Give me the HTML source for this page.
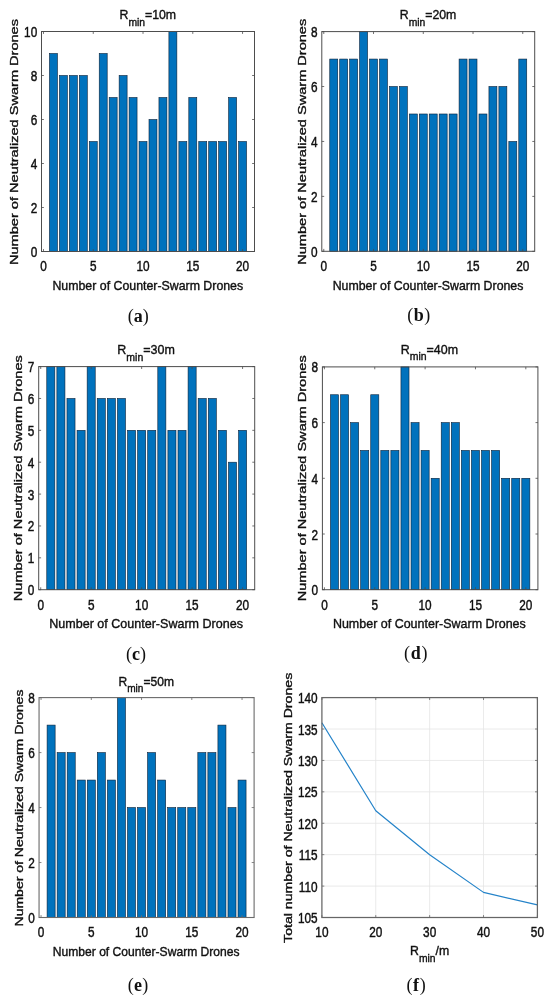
<!DOCTYPE html>
<html lang="en">
<head>
<meta charset="utf-8">
<title>Neutralized swarm drones versus counter-swarm drones for different R_min</title>
<style>
html,body{margin:0;padding:0;background:#fff;}
body{width:550px;height:1003px;overflow:hidden;}
svg{display:block;}
svg text{font-family:"Liberation Sans", Arial, Helvetica, sans-serif;fill:#101010;stroke:#101010;stroke-width:0.36px;}
svg text.cap{font-family:"Liberation Serif", "Times New Roman", serif;fill:#111;stroke:none;}
</style>
</head>
<body>
<svg width="550" height="1003" viewBox="0 0 550 1003">
<rect width="550" height="1003" fill="#ffffff"/>
<g id="panel-a">
<rect x="41.5" y="31.5" width="213.00" height="220.00" fill="#fff"/>
<g fill="#0072BD" stroke="#0a2038" stroke-width="0.6">
<rect x="49.46" y="53.50" width="7.96" height="198.00"/>
<rect x="59.42" y="75.50" width="7.96" height="176.00"/>
<rect x="69.37" y="75.50" width="7.96" height="176.00"/>
<rect x="79.32" y="75.50" width="7.96" height="176.00"/>
<rect x="89.28" y="141.50" width="7.96" height="110.00"/>
<rect x="99.23" y="53.50" width="7.96" height="198.00"/>
<rect x="109.18" y="97.50" width="7.96" height="154.00"/>
<rect x="119.14" y="75.50" width="7.96" height="176.00"/>
<rect x="129.09" y="97.50" width="7.96" height="154.00"/>
<rect x="139.04" y="141.50" width="7.96" height="110.00"/>
<rect x="149.00" y="119.50" width="7.96" height="132.00"/>
<rect x="158.95" y="97.50" width="7.96" height="154.00"/>
<rect x="168.90" y="31.50" width="7.96" height="220.00"/>
<rect x="178.86" y="141.50" width="7.96" height="110.00"/>
<rect x="188.81" y="97.50" width="7.96" height="154.00"/>
<rect x="198.76" y="141.50" width="7.96" height="110.00"/>
<rect x="208.71" y="141.50" width="7.96" height="110.00"/>
<rect x="218.67" y="141.50" width="7.96" height="110.00"/>
<rect x="228.62" y="97.50" width="7.96" height="154.00"/>
<rect x="238.57" y="141.50" width="7.96" height="110.00"/>
</g>
<path d="M43.49 251.5v-2.4M43.49 31.5v2.4M93.26 251.5v-2.4M93.26 31.5v2.4M143.02 251.5v-2.4M143.02 31.5v2.4M192.79 251.5v-2.4M192.79 31.5v2.4M242.56 251.5v-2.4M242.56 31.5v2.4M41.5 251.50h2.4M254.5 251.50h-2.4M41.5 207.50h2.4M254.5 207.50h-2.4M41.5 163.50h2.4M254.5 163.50h-2.4M41.5 119.50h2.4M254.5 119.50h-2.4M41.5 75.50h2.4M254.5 75.50h-2.4M41.5 31.50h2.4M254.5 31.50h-2.4" stroke="#4d4d4d" stroke-width="0.8" fill="none"/>
<rect x="41.5" y="31.5" width="213.00" height="220.00" fill="none" stroke="#4d4d4d" stroke-width="1.0"/>
<text transform="translate(43.49,271.40) scale(1,1.23)" font-size="11.8" text-anchor="middle" >0</text>
<text transform="translate(93.26,271.40) scale(1,1.23)" font-size="11.8" text-anchor="middle" >5</text>
<text transform="translate(143.02,271.40) scale(1,1.23)" font-size="11.8" text-anchor="middle" >10</text>
<text transform="translate(192.79,271.40) scale(1,1.23)" font-size="11.8" text-anchor="middle" >15</text>
<text transform="translate(242.56,271.40) scale(1,1.23)" font-size="11.8" text-anchor="middle" >20</text>
<text transform="translate(37.20,257.00) scale(1,1.23)" font-size="11.8" text-anchor="end" >0</text>
<text transform="translate(37.20,213.00) scale(1,1.23)" font-size="11.8" text-anchor="end" >2</text>
<text transform="translate(37.20,169.00) scale(1,1.23)" font-size="11.8" text-anchor="end" >4</text>
<text transform="translate(37.20,125.00) scale(1,1.23)" font-size="11.8" text-anchor="end" >6</text>
<text transform="translate(37.20,81.00) scale(1,1.23)" font-size="11.8" text-anchor="end" >8</text>
<text transform="translate(37.20,37.00) scale(1,1.23)" font-size="11.8" text-anchor="end" >10</text>
<text transform="translate(147.80,290.20) scale(1,1.0988259109311742)" font-size="12.35" text-anchor="middle" >Number of Counter-Swarm Drones</text>
<text transform="translate(17.80,142.00) rotate(-90) scale(1.2568965517241382,1)" font-size="11.6" text-anchor="middle">Number of Neutralized Swarm Drones</text>
<text transform="translate(147.80,19.10) scale(1,1.0988259109311742)" font-size="12.299999999999999" text-anchor="middle">R<tspan font-size="10.33" dy="6.15">min</tspan><tspan dy="-6.15">=10m</tspan></text>
<text x="138.2" y="321.7" class="cap" font-size="18" letter-spacing="0" text-anchor="middle">(<tspan font-weight="bold">a</tspan>)</text>
</g>
<g id="panel-b">
<rect x="321.8" y="31.6" width="212.90" height="219.70" fill="#fff"/>
<g fill="#0072BD" stroke="#0a2038" stroke-width="0.6">
<rect x="329.76" y="59.06" width="7.96" height="192.24"/>
<rect x="339.71" y="59.06" width="7.96" height="192.24"/>
<rect x="349.66" y="59.06" width="7.96" height="192.24"/>
<rect x="359.60" y="31.60" width="7.96" height="219.70"/>
<rect x="369.55" y="59.06" width="7.96" height="192.24"/>
<rect x="379.50" y="59.06" width="7.96" height="192.24"/>
<rect x="389.45" y="86.53" width="7.96" height="164.78"/>
<rect x="399.40" y="86.53" width="7.96" height="164.78"/>
<rect x="409.35" y="113.99" width="7.96" height="137.31"/>
<rect x="419.30" y="113.99" width="7.96" height="137.31"/>
<rect x="429.24" y="113.99" width="7.96" height="137.31"/>
<rect x="439.19" y="113.99" width="7.96" height="137.31"/>
<rect x="449.14" y="113.99" width="7.96" height="137.31"/>
<rect x="459.09" y="59.06" width="7.96" height="192.24"/>
<rect x="469.04" y="59.06" width="7.96" height="192.24"/>
<rect x="478.99" y="113.99" width="7.96" height="137.31"/>
<rect x="488.94" y="86.53" width="7.96" height="164.78"/>
<rect x="498.89" y="86.53" width="7.96" height="164.78"/>
<rect x="508.83" y="141.45" width="7.96" height="109.85"/>
<rect x="518.78" y="59.06" width="7.96" height="192.24"/>
</g>
<path d="M323.79 251.3v-2.4M323.79 31.6v2.4M373.53 251.3v-2.4M373.53 31.6v2.4M423.28 251.3v-2.4M423.28 31.6v2.4M473.02 251.3v-2.4M473.02 31.6v2.4M522.76 251.3v-2.4M522.76 31.6v2.4M321.8 251.30h2.4M534.7 251.30h-2.4M321.8 196.38h2.4M534.7 196.38h-2.4M321.8 141.45h2.4M534.7 141.45h-2.4M321.8 86.53h2.4M534.7 86.53h-2.4M321.8 31.60h2.4M534.7 31.60h-2.4" stroke="#4d4d4d" stroke-width="0.8" fill="none"/>
<rect x="321.8" y="31.6" width="212.90" height="219.70" fill="none" stroke="#4d4d4d" stroke-width="1.0"/>
<text transform="translate(323.79,271.20) scale(1,1.23)" font-size="11.8" text-anchor="middle" >0</text>
<text transform="translate(373.53,271.20) scale(1,1.23)" font-size="11.8" text-anchor="middle" >5</text>
<text transform="translate(423.28,271.20) scale(1,1.23)" font-size="11.8" text-anchor="middle" >10</text>
<text transform="translate(473.02,271.20) scale(1,1.23)" font-size="11.8" text-anchor="middle" >15</text>
<text transform="translate(522.76,271.20) scale(1,1.23)" font-size="11.8" text-anchor="middle" >20</text>
<text transform="translate(317.50,256.80) scale(1,1.23)" font-size="11.8" text-anchor="end" >0</text>
<text transform="translate(317.50,201.88) scale(1,1.23)" font-size="11.8" text-anchor="end" >2</text>
<text transform="translate(317.50,146.95) scale(1,1.23)" font-size="11.8" text-anchor="end" >4</text>
<text transform="translate(317.50,92.03) scale(1,1.23)" font-size="11.8" text-anchor="end" >6</text>
<text transform="translate(317.50,37.10) scale(1,1.23)" font-size="11.8" text-anchor="end" >8</text>
<text transform="translate(428.05,290.00) scale(1,1.0988259109311742)" font-size="12.35" text-anchor="middle" >Number of Counter-Swarm Drones</text>
<text transform="translate(306.00,141.75) rotate(-90) scale(1.2568965517241382,1)" font-size="11.6" text-anchor="middle">Number of Neutralized Swarm Drones</text>
<text transform="translate(428.05,19.20) scale(1,1.0988259109311742)" font-size="12.299999999999999" text-anchor="middle">R<tspan font-size="10.33" dy="6.15">min</tspan><tspan dy="-6.15">=20m</tspan></text>
<text x="419.0" y="321.4" class="cap" font-size="18" letter-spacing="0.55" text-anchor="middle">(<tspan font-weight="bold">b</tspan>)</text>
</g>
<g id="panel-c">
<rect x="38.7" y="366.6" width="216.00" height="223.10" fill="#fff"/>
<g fill="#0072BD" stroke="#0a2038" stroke-width="0.6">
<rect x="46.77" y="366.60" width="8.07" height="223.10"/>
<rect x="56.87" y="366.60" width="8.07" height="223.10"/>
<rect x="66.96" y="398.47" width="8.07" height="191.23"/>
<rect x="77.06" y="430.34" width="8.07" height="159.36"/>
<rect x="87.15" y="366.60" width="8.07" height="223.10"/>
<rect x="97.24" y="398.47" width="8.07" height="191.23"/>
<rect x="107.34" y="398.47" width="8.07" height="191.23"/>
<rect x="117.43" y="398.47" width="8.07" height="191.23"/>
<rect x="127.52" y="430.34" width="8.07" height="159.36"/>
<rect x="137.62" y="430.34" width="8.07" height="159.36"/>
<rect x="147.71" y="430.34" width="8.07" height="159.36"/>
<rect x="157.80" y="366.60" width="8.07" height="223.10"/>
<rect x="167.90" y="430.34" width="8.07" height="159.36"/>
<rect x="177.99" y="430.34" width="8.07" height="159.36"/>
<rect x="188.08" y="366.60" width="8.07" height="223.10"/>
<rect x="198.18" y="398.47" width="8.07" height="191.23"/>
<rect x="208.27" y="398.47" width="8.07" height="191.23"/>
<rect x="218.36" y="430.34" width="8.07" height="159.36"/>
<rect x="228.46" y="462.21" width="8.07" height="127.49"/>
<rect x="238.55" y="430.34" width="8.07" height="159.36"/>
</g>
<path d="M40.72 589.7v-2.4M40.72 366.6v2.4M91.19 589.7v-2.4M91.19 366.6v2.4M141.65 589.7v-2.4M141.65 366.6v2.4M192.12 589.7v-2.4M192.12 366.6v2.4M242.59 589.7v-2.4M242.59 366.6v2.4M38.7 589.70h2.4M254.7 589.70h-2.4M38.7 557.83h2.4M254.7 557.83h-2.4M38.7 525.96h2.4M254.7 525.96h-2.4M38.7 494.09h2.4M254.7 494.09h-2.4M38.7 462.21h2.4M254.7 462.21h-2.4M38.7 430.34h2.4M254.7 430.34h-2.4M38.7 398.47h2.4M254.7 398.47h-2.4M38.7 366.60h2.4M254.7 366.60h-2.4" stroke="#4d4d4d" stroke-width="0.8" fill="none"/>
<rect x="38.7" y="366.6" width="216.00" height="223.10" fill="none" stroke="#4d4d4d" stroke-width="1.0"/>
<text transform="translate(40.72,609.60) scale(1,1.23)" font-size="11.8" text-anchor="middle" >0</text>
<text transform="translate(91.19,609.60) scale(1,1.23)" font-size="11.8" text-anchor="middle" >5</text>
<text transform="translate(141.65,609.60) scale(1,1.23)" font-size="11.8" text-anchor="middle" >10</text>
<text transform="translate(192.12,609.60) scale(1,1.23)" font-size="11.8" text-anchor="middle" >15</text>
<text transform="translate(242.59,609.60) scale(1,1.23)" font-size="11.8" text-anchor="middle" >20</text>
<text transform="translate(34.40,595.20) scale(1,1.23)" font-size="11.8" text-anchor="end" >0</text>
<text transform="translate(34.40,563.33) scale(1,1.23)" font-size="11.8" text-anchor="end" >1</text>
<text transform="translate(34.40,531.46) scale(1,1.23)" font-size="11.8" text-anchor="end" >2</text>
<text transform="translate(34.40,499.59) scale(1,1.23)" font-size="11.8" text-anchor="end" >3</text>
<text transform="translate(34.40,467.71) scale(1,1.23)" font-size="11.8" text-anchor="end" >4</text>
<text transform="translate(34.40,435.84) scale(1,1.23)" font-size="11.8" text-anchor="end" >5</text>
<text transform="translate(34.40,403.97) scale(1,1.23)" font-size="11.8" text-anchor="end" >6</text>
<text transform="translate(34.40,372.10) scale(1,1.23)" font-size="11.8" text-anchor="end" >7</text>
<text transform="translate(146.10,627.90) scale(1,1.0813147410358566)" font-size="12.55" text-anchor="middle" >Number of Counter-Swarm Drones</text>
<text transform="translate(22.30,478.15) rotate(-90) scale(1.2568965517241382,1)" font-size="11.6" text-anchor="middle">Number of Neutralized Swarm Drones</text>
<text transform="translate(146.10,354.20) scale(1,1.0813147410358566)" font-size="12.5" text-anchor="middle">R<tspan font-size="10.50" dy="6.25">min</tspan><tspan dy="-6.25">=30m</tspan></text>
<text x="136.0" y="659.7" class="cap" font-size="18" letter-spacing="0" text-anchor="middle">(<tspan font-weight="bold">c</tspan>)</text>
</g>
<g id="panel-d">
<rect x="322.4" y="366.9" width="215.50" height="222.80" fill="#fff"/>
<g fill="#0072BD" stroke="#0a2038" stroke-width="0.6">
<rect x="330.46" y="394.75" width="8.06" height="194.95"/>
<rect x="340.53" y="394.75" width="8.06" height="194.95"/>
<rect x="350.60" y="422.60" width="8.06" height="167.10"/>
<rect x="360.67" y="450.45" width="8.06" height="139.25"/>
<rect x="370.74" y="394.75" width="8.06" height="194.95"/>
<rect x="380.81" y="450.45" width="8.06" height="139.25"/>
<rect x="390.88" y="450.45" width="8.06" height="139.25"/>
<rect x="400.95" y="366.90" width="8.06" height="222.80"/>
<rect x="411.02" y="422.60" width="8.06" height="167.10"/>
<rect x="421.09" y="450.45" width="8.06" height="139.25"/>
<rect x="431.16" y="478.30" width="8.06" height="111.40"/>
<rect x="441.23" y="422.60" width="8.06" height="167.10"/>
<rect x="451.30" y="422.60" width="8.06" height="167.10"/>
<rect x="461.37" y="450.45" width="8.06" height="139.25"/>
<rect x="471.44" y="450.45" width="8.06" height="139.25"/>
<rect x="481.51" y="450.45" width="8.06" height="139.25"/>
<rect x="491.58" y="450.45" width="8.06" height="139.25"/>
<rect x="501.65" y="478.30" width="8.06" height="111.40"/>
<rect x="511.72" y="478.30" width="8.06" height="111.40"/>
<rect x="521.79" y="478.30" width="8.06" height="111.40"/>
</g>
<path d="M324.41 589.7v-2.4M324.41 366.9v2.4M374.76 589.7v-2.4M374.76 366.9v2.4M425.11 589.7v-2.4M425.11 366.9v2.4M475.47 589.7v-2.4M475.47 366.9v2.4M525.82 589.7v-2.4M525.82 366.9v2.4M322.4 589.70h2.4M537.9 589.70h-2.4M322.4 534.00h2.4M537.9 534.00h-2.4M322.4 478.30h2.4M537.9 478.30h-2.4M322.4 422.60h2.4M537.9 422.60h-2.4M322.4 366.90h2.4M537.9 366.90h-2.4" stroke="#4d4d4d" stroke-width="0.8" fill="none"/>
<rect x="322.4" y="366.9" width="215.50" height="222.80" fill="none" stroke="#4d4d4d" stroke-width="1.0"/>
<text transform="translate(324.41,609.60) scale(1,1.23)" font-size="11.8" text-anchor="middle" >0</text>
<text transform="translate(374.76,609.60) scale(1,1.23)" font-size="11.8" text-anchor="middle" >5</text>
<text transform="translate(425.11,609.60) scale(1,1.23)" font-size="11.8" text-anchor="middle" >10</text>
<text transform="translate(475.47,609.60) scale(1,1.23)" font-size="11.8" text-anchor="middle" >15</text>
<text transform="translate(525.82,609.60) scale(1,1.23)" font-size="11.8" text-anchor="middle" >20</text>
<text transform="translate(318.10,595.20) scale(1,1.23)" font-size="11.8" text-anchor="end" >0</text>
<text transform="translate(318.10,539.50) scale(1,1.23)" font-size="11.8" text-anchor="end" >2</text>
<text transform="translate(318.10,483.80) scale(1,1.23)" font-size="11.8" text-anchor="end" >4</text>
<text transform="translate(318.10,428.10) scale(1,1.23)" font-size="11.8" text-anchor="end" >6</text>
<text transform="translate(318.10,372.40) scale(1,1.23)" font-size="11.8" text-anchor="end" >8</text>
<text transform="translate(429.35,628.40) scale(1,1.0856400000000002)" font-size="12.5" text-anchor="middle" >Number of Counter-Swarm Drones</text>
<text transform="translate(305.80,478.30) rotate(-90) scale(1.2568965517241382,1)" font-size="11.6" text-anchor="middle">Number of Neutralized Swarm Drones</text>
<text transform="translate(429.35,353.70) scale(1,1.0856400000000002)" font-size="12.45" text-anchor="middle">R<tspan font-size="10.46" dy="6.22">min</tspan><tspan dy="-6.22">=40m</tspan></text>
<text x="416.2" y="659.4" class="cap" font-size="18" letter-spacing="0.8" text-anchor="middle">(<tspan font-weight="bold">d</tspan>)</text>
</g>
<g id="panel-e">
<rect x="39.05" y="697.6" width="215.05" height="219.90" fill="#fff"/>
<g fill="#0072BD" stroke="#0a2038" stroke-width="0.6">
<rect x="47.09" y="725.09" width="8.04" height="192.41"/>
<rect x="57.14" y="752.58" width="8.04" height="164.92"/>
<rect x="67.19" y="752.58" width="8.04" height="164.92"/>
<rect x="77.24" y="780.06" width="8.04" height="137.44"/>
<rect x="87.29" y="780.06" width="8.04" height="137.44"/>
<rect x="97.33" y="752.58" width="8.04" height="164.92"/>
<rect x="107.38" y="780.06" width="8.04" height="137.44"/>
<rect x="117.43" y="697.60" width="8.04" height="219.90"/>
<rect x="127.48" y="807.55" width="8.04" height="109.95"/>
<rect x="137.53" y="807.55" width="8.04" height="109.95"/>
<rect x="147.58" y="752.58" width="8.04" height="164.92"/>
<rect x="157.63" y="780.06" width="8.04" height="137.44"/>
<rect x="167.68" y="807.55" width="8.04" height="109.95"/>
<rect x="177.73" y="807.55" width="8.04" height="109.95"/>
<rect x="187.78" y="807.55" width="8.04" height="109.95"/>
<rect x="197.83" y="752.58" width="8.04" height="164.92"/>
<rect x="207.87" y="752.58" width="8.04" height="164.92"/>
<rect x="217.92" y="725.09" width="8.04" height="192.41"/>
<rect x="227.97" y="807.55" width="8.04" height="109.95"/>
<rect x="238.02" y="780.06" width="8.04" height="137.44"/>
</g>
<path d="M41.06 917.5v-2.4M41.06 697.6v2.4M91.31 917.5v-2.4M91.31 697.6v2.4M141.55 917.5v-2.4M141.55 697.6v2.4M191.80 917.5v-2.4M191.80 697.6v2.4M242.04 917.5v-2.4M242.04 697.6v2.4M39.05 917.50h2.4M254.1 917.50h-2.4M39.05 862.52h2.4M254.1 862.52h-2.4M39.05 807.55h2.4M254.1 807.55h-2.4M39.05 752.58h2.4M254.1 752.58h-2.4M39.05 697.60h2.4M254.1 697.60h-2.4" stroke="#6a6a6a" stroke-width="0.8" fill="none"/>
<rect x="39.05" y="697.6" width="215.05" height="219.90" fill="none" stroke="#6a6a6a" stroke-width="1.1"/>
<text transform="translate(41.06,937.40) scale(1,1.23)" font-size="11.8" text-anchor="middle" >0</text>
<text transform="translate(91.31,937.40) scale(1,1.23)" font-size="11.8" text-anchor="middle" >5</text>
<text transform="translate(141.55,937.40) scale(1,1.23)" font-size="11.8" text-anchor="middle" >10</text>
<text transform="translate(191.80,937.40) scale(1,1.23)" font-size="11.8" text-anchor="middle" >15</text>
<text transform="translate(242.04,937.40) scale(1,1.23)" font-size="11.8" text-anchor="middle" >20</text>
<text transform="translate(34.75,923.00) scale(1,1.23)" font-size="11.8" text-anchor="end" >0</text>
<text transform="translate(34.75,868.02) scale(1,1.23)" font-size="11.8" text-anchor="end" >2</text>
<text transform="translate(34.75,813.05) scale(1,1.23)" font-size="11.8" text-anchor="end" >4</text>
<text transform="translate(34.75,758.08) scale(1,1.23)" font-size="11.8" text-anchor="end" >6</text>
<text transform="translate(34.75,703.10) scale(1,1.23)" font-size="11.8" text-anchor="end" >8</text>
<text transform="translate(146.17,955.90) scale(1,1.1215289256198349)" font-size="12.1" text-anchor="middle" >Number of Counter-Swarm Drones</text>
<text transform="translate(23.30,808.05) rotate(-90) scale(1.2103448275862068,1)" font-size="11.6" text-anchor="middle">Number of Neutralized Swarm Drones</text>
<text transform="translate(146.17,685.60) scale(1,1.1215289256198349)" font-size="12.049999999999999" text-anchor="middle">R<tspan font-size="10.12" dy="6.02">min</tspan><tspan dy="-6.02">=50m</tspan></text>
<text x="138.1" y="991.2" class="cap" font-size="18" letter-spacing="0.3" text-anchor="middle">(<tspan font-weight="bold">e</tspan>)</text>
</g>
<g id="panel-f">
<rect x="321.9" y="697.6" width="215.50" height="219.90" fill="#fff"/>
<path d="M375.77 697.6V917.5M429.65 697.6V917.5M483.52 697.6V917.5M321.9 886.09H537.4M321.9 854.67H537.4M321.9 823.26H537.4M321.9 791.84H537.4M321.9 760.43H537.4M321.9 729.01H537.4" stroke="#e4e4e4" stroke-width="0.8" fill="none"/>
<polyline points="321.90,722.73 375.77,810.69 429.65,854.67 483.52,892.37 537.40,904.93" fill="none" stroke="#2483c9" stroke-width="1.2" stroke-linejoin="round"/>
<path d="M321.90 917.5v-2.4M321.90 697.6v2.4M375.77 917.5v-2.4M375.77 697.6v2.4M429.65 917.5v-2.4M429.65 697.6v2.4M483.52 917.5v-2.4M483.52 697.6v2.4M537.40 917.5v-2.4M537.40 697.6v2.4M321.9 917.50h2.4M537.4 917.50h-2.4M321.9 886.09h2.4M537.4 886.09h-2.4M321.9 854.67h2.4M537.4 854.67h-2.4M321.9 823.26h2.4M537.4 823.26h-2.4M321.9 791.84h2.4M537.4 791.84h-2.4M321.9 760.43h2.4M537.4 760.43h-2.4M321.9 729.01h2.4M537.4 729.01h-2.4M321.9 697.60h2.4M537.4 697.60h-2.4" stroke="#666666" stroke-width="0.8" fill="none"/>
<rect x="321.9" y="697.6" width="215.50" height="219.90" fill="none" stroke="#666666" stroke-width="1.25"/>
<text transform="translate(321.90,937.40) scale(1,1.23)" font-size="11.8" text-anchor="middle" >10</text>
<text transform="translate(375.77,937.40) scale(1,1.23)" font-size="11.8" text-anchor="middle" >20</text>
<text transform="translate(429.65,937.40) scale(1,1.23)" font-size="11.8" text-anchor="middle" >30</text>
<text transform="translate(483.52,937.40) scale(1,1.23)" font-size="11.8" text-anchor="middle" >40</text>
<text transform="translate(537.40,937.40) scale(1,1.23)" font-size="11.8" text-anchor="middle" >50</text>
<text transform="translate(317.60,923.00) scale(1,1.23)" font-size="11.8" text-anchor="end" >105</text>
<text transform="translate(317.60,891.59) scale(1,1.23)" font-size="11.8" text-anchor="end" >110</text>
<text transform="translate(317.60,860.17) scale(1,1.23)" font-size="11.8" text-anchor="end" >115</text>
<text transform="translate(317.60,828.76) scale(1,1.23)" font-size="11.8" text-anchor="end" >120</text>
<text transform="translate(317.60,797.34) scale(1,1.23)" font-size="11.8" text-anchor="end" >125</text>
<text transform="translate(317.60,765.93) scale(1,1.23)" font-size="11.8" text-anchor="end" >130</text>
<text transform="translate(317.60,734.51) scale(1,1.23)" font-size="11.8" text-anchor="end" >135</text>
<text transform="translate(317.60,703.10) scale(1,1.23)" font-size="11.8" text-anchor="end" >140</text>
<text transform="translate(429.65,954.70) scale(1,1.1032926829268292)" font-size="12.3" text-anchor="middle">R<tspan font-size="10.33" dy="6.77">min</tspan><tspan dy="-6.77">/m</tspan></text>
<text transform="translate(292.00,807.85) rotate(-90) scale(1.2186206896551723,1)" font-size="11.6" text-anchor="middle">Total number of Neutralized Swarm Drones</text>
<text x="416.4" y="991.2" class="cap" font-size="18" letter-spacing="0.6" text-anchor="middle">(<tspan font-weight="bold">f</tspan>)</text>
</g>
</svg>
</body>
</html>
